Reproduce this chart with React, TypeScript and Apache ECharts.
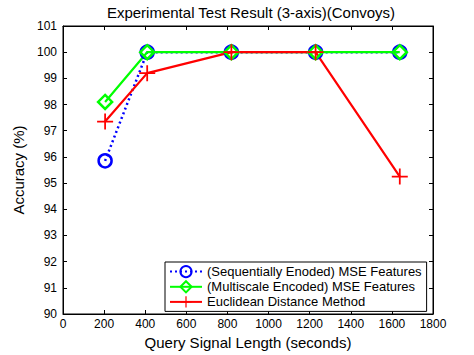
import React, { useEffect, useRef } from "react";
import * as echarts from "echarts";

const xValues = [204.8, 409.6, 819.2, 1228.8, 1638.4];
const seqEncoded = [95.85, 100, 100, 100, 100];
const multiEncoded = [98.1, 100, 100, 100, 100];
const euclidean = [97.35, 99.2, 100, 100, 95.25];
const seriesNames = [
  "(Sequentially Enoded) MSE Features",
  "(Multiscale Encoded) MSE Features",
  "Euclidean Distance Method",
];

const FONT = "Liberation Sans, Arial, sans-serif";

export default function App() {
  const ref = useRef<HTMLDivElement>(null);
  useEffect(() => {
    document.body.style.margin = "0";
    const chart = echarts.init(ref.current!, null, { renderer: "svg" });
    const pair = (ys: number[]) => xValues.map((x, i) => [x, ys[i]]);
    const plusPath = "path://M-1,-0.11H1V0.11H-1Z M-0.11,-1H0.11V1H-0.11Z";
    const diamondPath = "path://M0,-1L1,0L0,1L-1,0Z";
    const axisCommon = {
      axisLine: { show: true, onZero: false, lineStyle: { color: "#000", width: 1 } },
      axisTick: { show: true, inside: true, length: 4, lineStyle: { color: "#000" } },
      splitLine: { show: false },
    };
    chart.setOption({
      animation: false,
      backgroundColor: "#fff",
      textStyle: { fontFamily: FONT },
      title: {
        text: "Experimental Test Result (3-axis)(Convoys)",
        left: 246,
        textAlign: "center",
        top: 0,
        textStyle: { fontFamily: FONT, fontSize: 15, fontWeight: "normal", color: "#000" },
      },
      grid: { left: 63, right: 41, top: 26, bottom: 33, show: true, borderColor: "#000", borderWidth: 1 },
      legend: {
        orient: "vertical",
        left: 165,
        top: 262,
        backgroundColor: "#fff",
        borderColor: "#000",
        borderWidth: 1,
        borderRadius: 0,
        padding: [3, 5, 3, 4],
        itemGap: 2,
        itemWidth: 32,
        itemHeight: 14,
        textStyle: { fontFamily: FONT, fontSize: 13, color: "#000" },
        data: seriesNames,
      },
      xAxis: [
        {
          type: "value",
          min: 0,
          max: 1800,
          interval: 200,
          ...axisCommon,
          axisLabel: { color: "#000", fontSize: 12, fontFamily: FONT, margin: 4, formatter: (v: number) => String(v) },
          name: "Query Signal Length (seconds)",
          nameLocation: "middle",
          nameGap: 21,
          nameTextStyle: { color: "#000", fontSize: 15, fontFamily: FONT },
        },
        {
          type: "value",
          position: "top",
          min: 0,
          max: 1800,
          interval: 200,
          ...axisCommon,
          axisLabel: { show: false },
        },
      ],
      yAxis: [
        {
          type: "value",
          min: 90,
          max: 101,
          interval: 1,
          ...axisCommon,
          axisLabel: { color: "#000", fontSize: 12, fontFamily: FONT, margin: 6 },
          name: "Accuracy (%)",
          nameLocation: "middle",
          nameGap: 25,
          nameTextStyle: { color: "#000", fontSize: 15, fontFamily: FONT },
        },
        {
          type: "value",
          position: "right",
          min: 90,
          max: 101,
          interval: 1,
          ...axisCommon,
          axisLabel: { show: false },
        },
      ],
      series: [
        {
          name: seriesNames[0],
          type: "line",
          data: pair(seqEncoded),
          symbol: "circle",
          symbolSize: 13,
          showAllSymbol: true,
          lineStyle: { color: "#0000ff", width: 2.5, type: [2, 3] },
          itemStyle: { color: "rgba(255,255,255,0)", borderColor: "#0000ff", borderWidth: 2.5 },
        },
        {
          name: seriesNames[1],
          type: "line",
          data: pair(multiEncoded),
          symbol: diamondPath,
          symbolSize: 14,
          lineStyle: { color: "#00ff00", width: 2.2 },
          itemStyle: { color: "rgba(255,255,255,0)", borderColor: "#00ff00", borderWidth: 2.5 },
        },
        {
          name: seriesNames[2],
          type: "line",
          data: pair(euclidean),
          symbol: plusPath,
          symbolSize: 16,
          lineStyle: { color: "#ff0000", width: 2.2 },
          itemStyle: { color: "#ff0000", borderWidth: 0 },
        },
      ],
    });
    return () => chart.dispose();
  }, []);
  return <div ref={ref} style={{ width: 474, height: 355, position: "absolute", left: 0, top: 0 }} />;
}
